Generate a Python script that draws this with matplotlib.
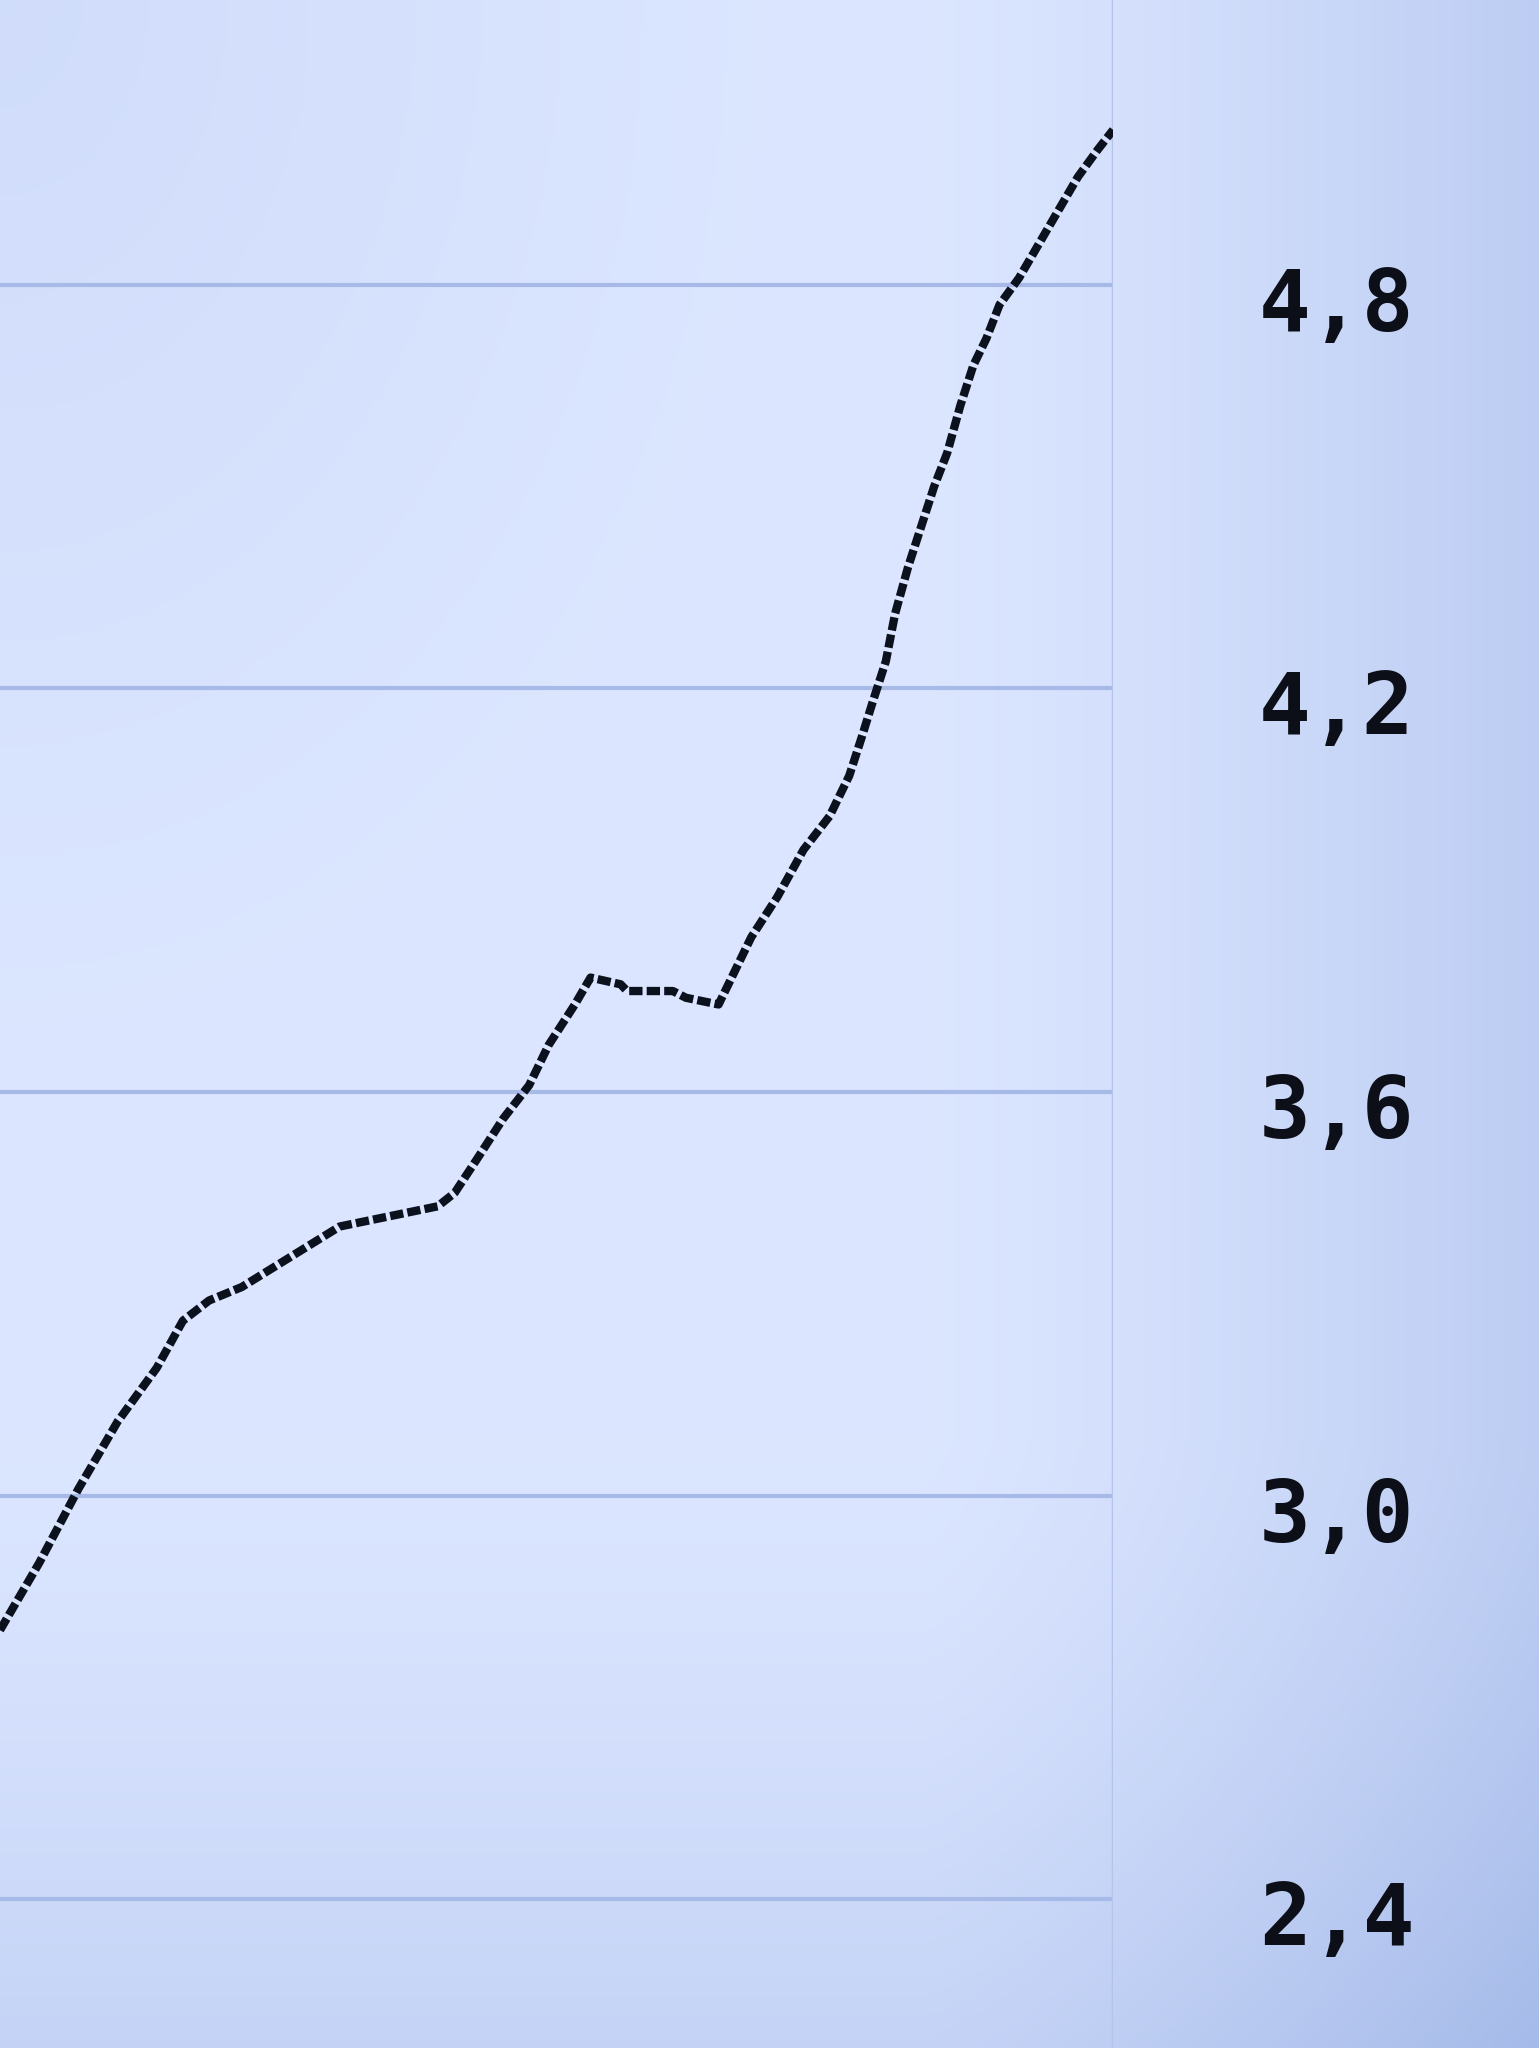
import matplotlib
matplotlib.use("Agg")
import matplotlib.pyplot as plt
import numpy as np

# Series (x = position along the time axis, y = value)
x_vals = [0, 30, 60, 90, 120, 140, 160, 185, 210, 235, 260, 285, 310, 335, 348,
          365, 385, 405, 420, 440, 452, 475, 480, 515, 525, 550, 560, 575, 595,
          615, 635, 650, 660, 668, 678, 685, 695, 705, 715, 725, 735, 745, 755,
          765, 780, 795, 810, 825, 840, 852]
y_vals = [2.80, 2.90, 3.01, 3.11, 3.19, 3.26, 3.29, 3.31, 3.34, 3.37, 3.40, 3.41,
          3.42, 3.43, 3.45, 3.50, 3.56, 3.61, 3.67, 3.73, 3.77, 3.76, 3.75, 3.75,
          3.74, 3.73, 3.77, 3.83, 3.89, 3.96, 4.01, 4.07, 4.13, 4.18, 4.24, 4.31,
          4.38, 4.44, 4.50, 4.55, 4.62, 4.68, 4.72, 4.77, 4.81, 4.86, 4.91, 4.96,
          5.00, 5.03]
tick_vals = [2.4, 3.0, 3.6, 4.2, 4.8]
tick_labels = ["2,4", "3,0", "3,6", "4,2", "4,8"]

fig = plt.figure(figsize=(15.39, 20.48), dpi=100)

# background: light screen blue, a bit darker towards right and bottom
bg = fig.add_axes([0, 0, 1, 1])
h, w = 400, 300
yy, xx = np.mgrid[0:1:h*1j, 0:1:w*1j]
d = 0.40 * np.clip((xx - 0.6) / 0.4, 0, 1) ** 1.3 + 0.30 * np.clip((yy - 0.7) / 0.3, 0, 1) ** 1.5
d += 0.15 * np.clip(1 - np.hypot(xx, yy) / 0.5, 0, 1)
d = np.clip(d, 0, 1)
light = np.array([0.86, 0.90, 1.0])
dark = np.array([0.56, 0.66, 0.88])
img = light[None, None, :] * (1 - d[..., None]) + dark[None, None, :] * d[..., None]
bg.imshow(img, aspect="auto", extent=[0, 1, 0, 1], origin="upper")
bg.axis("off")

# plot area
ax = fig.add_axes([0, 0, 0.7233, 1])
ax.set_facecolor("none")
ax.set_xlim(0, 852)
ax.set_ylim(2.179, 5.223)
for t, lab in zip(tick_vals, tick_labels):
    ax.axhline(t, color="#a7b9e6", lw=3, zorder=1)
    fig.text(0.818, (t - 2.179) / (5.223 - 2.179) - 0.011, lab,
             fontsize=62, family="DejaVu Sans Mono", fontweight="bold",
             color="#0c0f18", va="center", ha="left")
ax.axvline(852, color="#b3c3ea", lw=2.5, zorder=1)

ax.plot(x_vals, y_vals, color="#0b111d", lw=6, linestyle=(0, (1.6, 0.5)),
        solid_capstyle="butt", zorder=3)
ax.axis("off")

fig.savefig("out.png", dpi=100)
